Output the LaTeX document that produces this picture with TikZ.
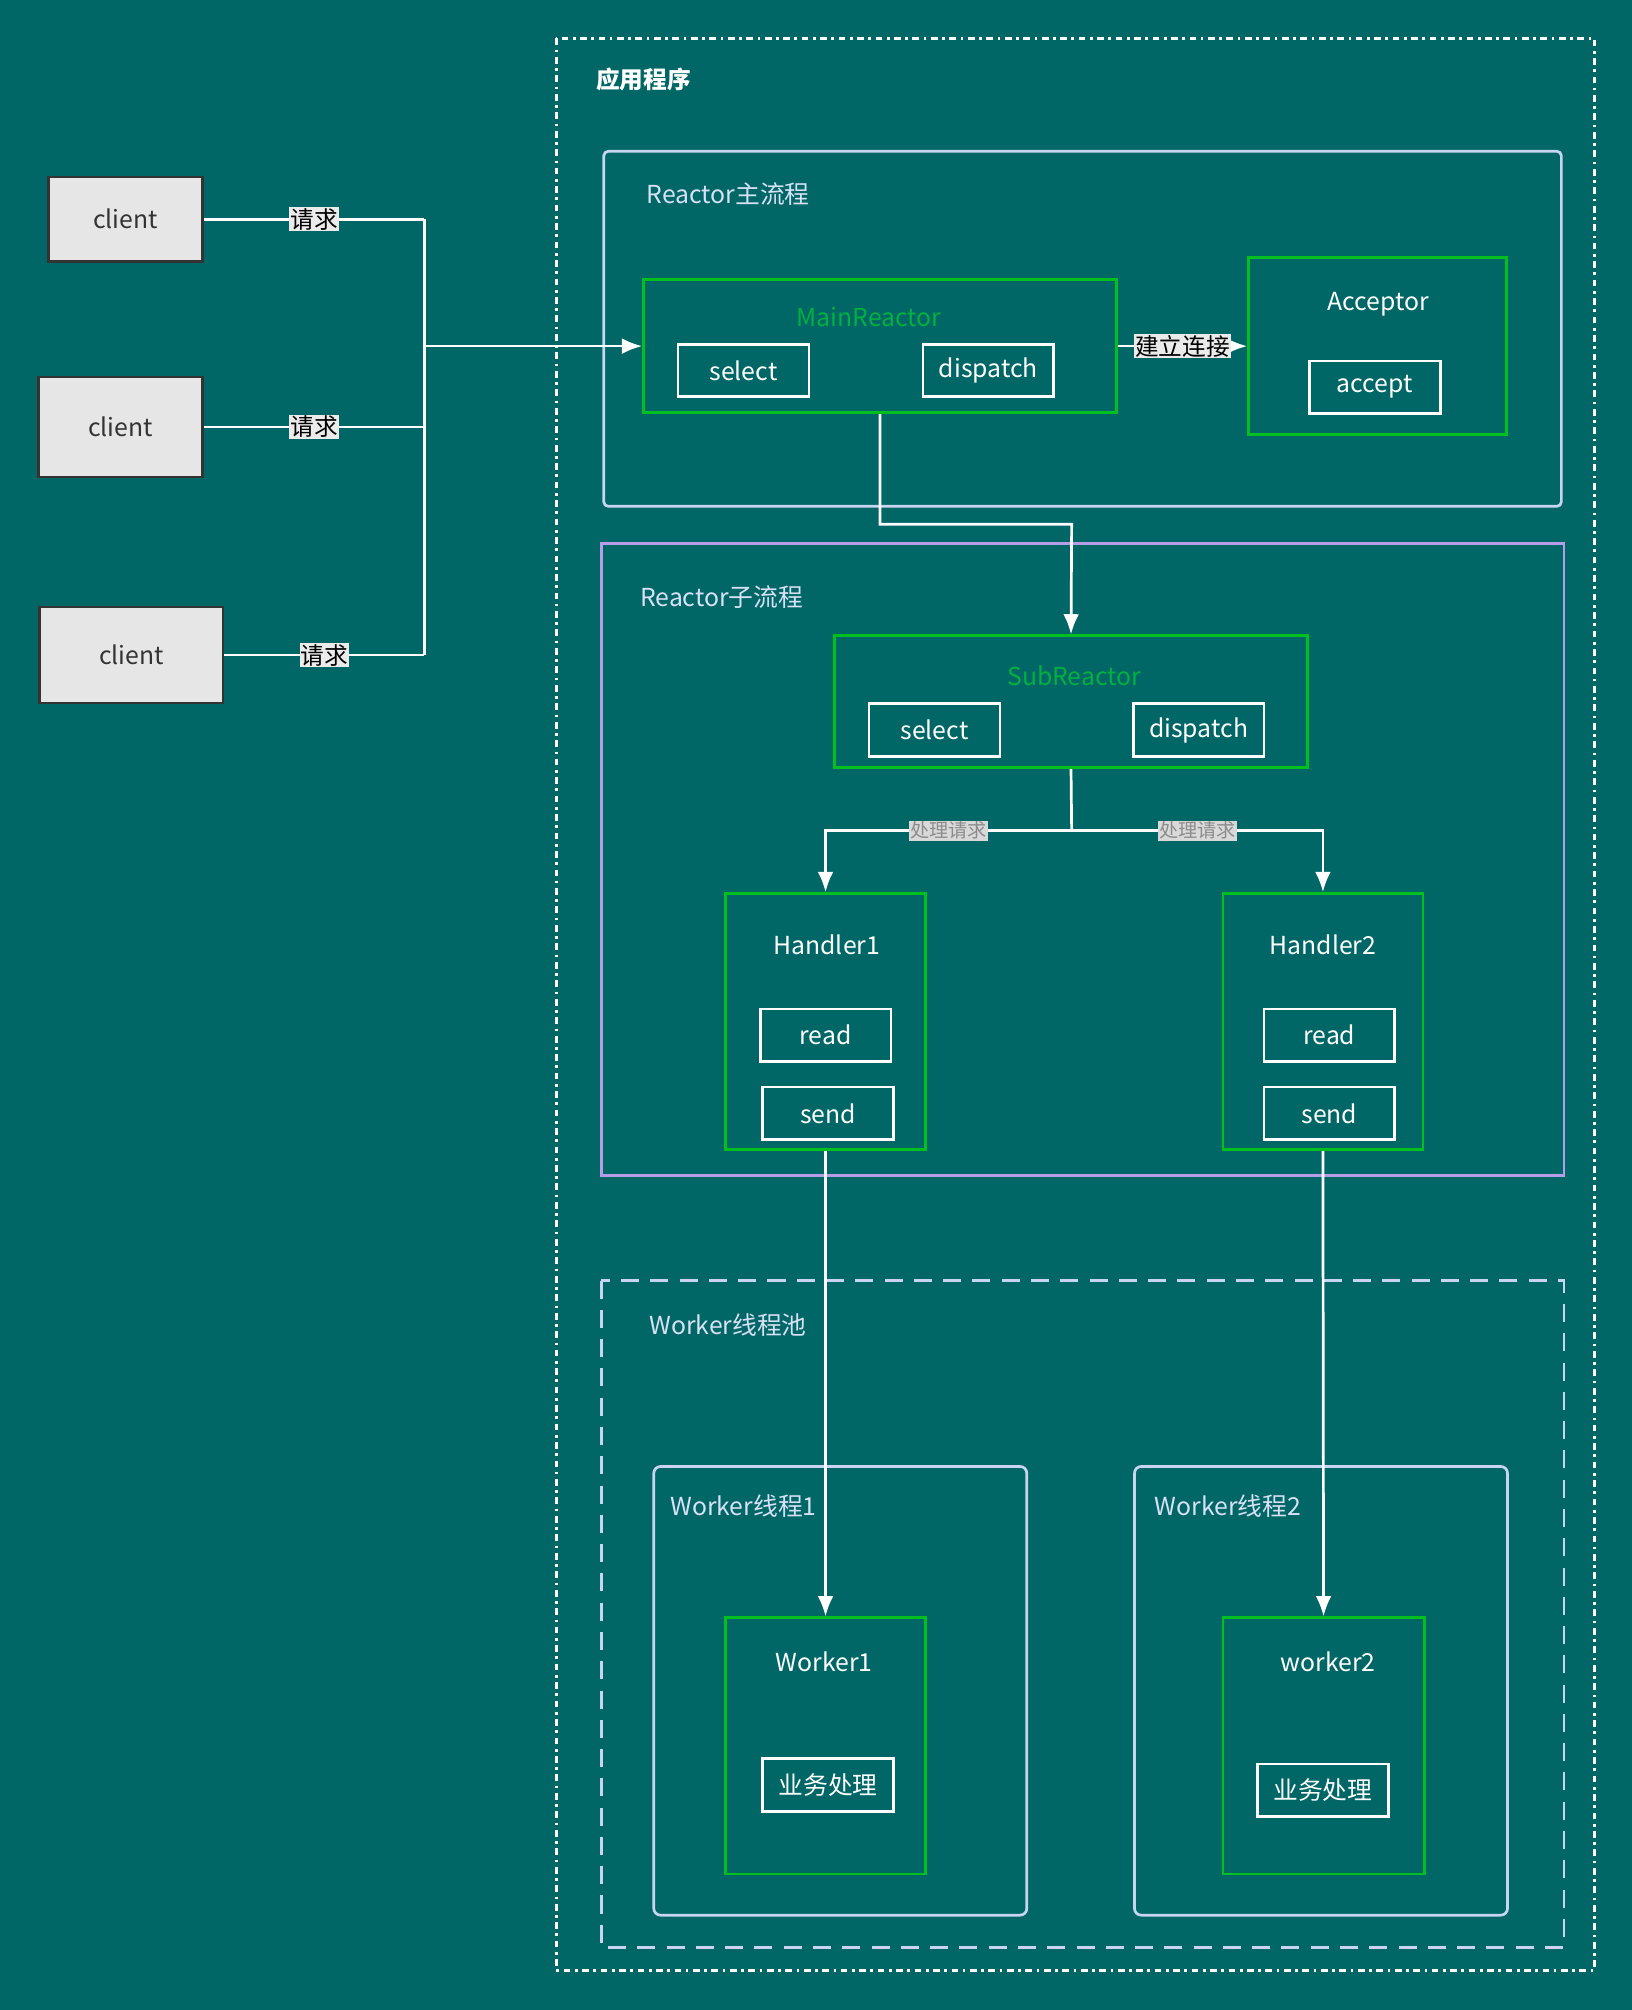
\documentclass[tikz,border=0pt]{standalone}
\usepackage{fontspec}
\setmainfont{Noto Sans CJK SC}
\usetikzlibrary{arrows.meta}
\definecolor{bgteal}{HTML}{006666}
\definecolor{boxgreen}{HTML}{00C020}
\definecolor{textgreen}{HTML}{00B040}
\definecolor{lavender}{HTML}{C8D4F0}
\definecolor{violet}{HTML}{B79CE8}
\definecolor{clientgray}{HTML}{E6E6E6}
\tikzset{
  green box/.style={draw=boxgreen, line width=1.2pt, inner sep=0pt},
  item/.style={draw=white, line width=1.2pt, text=white, minimum width=2.04cm, minimum height=0.82cm, inner sep=0pt, font=\fontsize{11}{13}\selectfont},
  client/.style={draw=black!80, fill=clientgray, line width=1.2pt, text=black!80, inner sep=0pt, font=\fontsize{11}{13}\selectfont},
  label/.style={text=white, font=\fontsize{11}{13}\selectfont, inner sep=0pt},
  wire/.style={draw=white, line width=1.2pt},
  arrow/.style={wire, -{Latex[length=9pt,width=7pt]}},
  tag/.style={fill=white!92!black, text=black, inner sep=0.5pt, font=\fontsize{10.5}{12}\selectfont},
  small tag/.style={fill=white!85!black, text=black!45, inner sep=0.5pt, font=\fontsize{8.5}{10}\selectfont}
}
\begin{document}
\begin{tikzpicture}[x=0.02cm,y=-0.02cm]
\fill[bgteal] (0,0) rectangle (1273,1568);
\useasboundingbox (0,0) rectangle (1273,1568);
% application frame
\draw[white, line width=1.2pt, dash dot] (434,30) rectangle (1244,1537);
\node[label, font=\fontsize{10.5}{12}\selectfont\bfseries] (app) at (502,62) {应用程序};
% main reactor section
\draw[lavender, line width=1.2pt, rounded corners=2pt] (471,118) rectangle (1218,395);
\node[label, text=lavender!70!white] (mainlbl) at (568,151) {Reactor主流程};
\node[green box, minimum width=7.38cm, minimum height=2.08cm] (main) at (686.5,270) {};
\node[label, text=textgreen] (maintxt) at (678,247) {MainReactor};
\node[item] (msel) at (580,289) {select};
\node[item] (mdis) at (771,289) {dispatch};
\node[green box, minimum width=4.02cm, minimum height=2.76cm] (acc) at (1074.5,270) {};
\node[label] (acctxt) at (1075,237) {Acceptor};
\node[item] (accept) at (1072.5,302) {accept};
\draw[arrow] (main.east) -- node[tag] {建立连接} (acc.west);
% clients
\node[client, minimum width=2.4cm, minimum height=1.32cm] (c1) at (98,171) {client};
\node[client, minimum width=2.56cm, minimum height=1.56cm] (c2) at (94,333) {client};
\node[client, minimum width=2.86cm, minimum height=1.5cm] (c3) at (102.5,511) {client};
\coordinate (bus1) at (331,171);
\coordinate (bus2) at (331,333);
\coordinate (bus3) at (331,511);
\coordinate (busm) at (331,270);
\draw[wire] (c1.east) -- node[tag] {请求} (bus1);
\draw[wire] (c2.east) -- node[tag] {请求} (bus2);
\draw[wire] (c3.east) -- node[tag] {请求} (bus3);
\draw[wire] (bus1) -- (bus3);
\draw[arrow] (busm) -- (main.west);
% sub reactor section
\draw[violet, line width=1.2pt] (469,424) rectangle (1220,917);
\node[label, text=lavender!70!white] (sublbl) at (563,466) {Reactor子流程};
\node[green box, minimum width=7.38cm, minimum height=2.06cm] (sub) at (835.5,547.5) {};
\node[label, text=textgreen] (subtxt) at (838,527) {SubReactor};
\node[item] (ssel) at (729,569.5) {select};
\node[item] (sdis) at (935,569.5) {dispatch};
\draw[arrow] (main.south) |- (836,409) -- (sub.north);
\node[green box, minimum width=3.12cm, minimum height=4cm] (h1) at (644,797) {};
\node[label] (h1txt) at (645,737) {Handler1};
\node[item] (h1r) at (644,807.5) {read};
\node[item] (h1s) at (646,868.5) {send};
\node[green box, minimum width=3.12cm, minimum height=4cm] (h2) at (1032,797) {};
\node[label] (h2txt) at (1032,737) {Handler2};
\node[item] (h2r) at (1037,807.5) {read};
\node[item] (h2s) at (1037,868.5) {send};
\coordinate (split) at (836,648);
\draw[wire] (sub.south) -- (split);
\draw[arrow] (split) -- node[small tag] {处理请求} (644,648) -- (h1.north);
\draw[arrow] (split) -- node[small tag] {处理请求} (1032,648) -- (h2.north);
% worker pool
\draw[lavender, line width=1.2pt, dashed, dash pattern=on 8pt off 5pt] (469,999) rectangle (1220,1519);
\node[label, text=lavender!70!white] (poollbl) at (568,1034) {Worker线程池};
\draw[lavender, line width=1.2pt, rounded corners=3pt] (510,1144) rectangle (801,1494);
\node[label, text=lavender!70!white] (t1lbl) at (580,1175) {Worker线程1};
\draw[lavender, line width=1.2pt, rounded corners=3pt] (885,1144) rectangle (1176,1494);
\node[label, text=lavender!70!white] (t2lbl) at (958,1175) {Worker线程2};
\node[green box, minimum width=3.12cm, minimum height=4cm] (w1) at (644,1362) {};
\node[label] (w1txt) at (643,1296) {Worker1};
\node[item] (w1job) at (646,1392.5) {业务处理};
\node[green box, minimum width=3.14cm, minimum height=4cm] (w2) at (1032.5,1362) {};
\node[label] (w2txt) at (1036,1296) {worker2};
\node[item] (w2job) at (1032,1396.5) {业务处理};
\draw[arrow] (h1.south) -- (w1.north);
\draw[arrow] (h2.south) -- (w2.north);
\end{tikzpicture}
\end{document}
